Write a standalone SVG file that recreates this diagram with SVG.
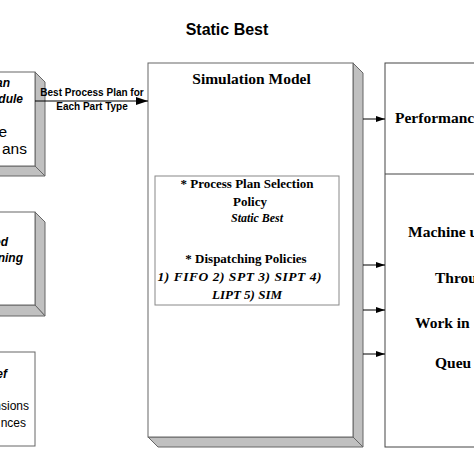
<svg xmlns="http://www.w3.org/2000/svg" width="474" height="474" viewBox="0 0 474 474">
<defs>
<style>
.front{fill:#fff;stroke:#666;stroke-width:1}
.shade{fill:#c0c0c0;stroke:#666;stroke-width:1}
.inner{fill:none;stroke:#888;stroke-width:1}
.rbox{fill:#fff;stroke:#444;stroke-width:1}
.conn{stroke:#000;stroke-width:1;fill:none}
.sans{font-family:"Liberation Sans",Arial,sans-serif;fill:#000}
.serif{font-family:"Liberation Serif","Times New Roman",serif;font-weight:bold;fill:#000}
.hd{font-style:italic;font-weight:bold;font-size:12px}
.rg{font-size:15.5px}
.lbl{font-size:10px;font-weight:bold;text-anchor:middle}
</style>
<marker id="ahL" markerUnits="userSpaceOnUse" markerWidth="12" markerHeight="8" refX="12" refY="4" orient="auto"><path d="M0,0 L12,4 L0,8 Z" fill="#000"/></marker>
<marker id="ahS" markerUnits="userSpaceOnUse" markerWidth="9" markerHeight="6" refX="9" refY="3" orient="auto"><path d="M0,0 L9,3 L0,6 Z" fill="#000"/></marker>
</defs>
<rect width="474" height="474" fill="#fff"/>
<text class="sans" x="227" y="35" font-size="16" font-weight="bold" text-anchor="middle">Static Best</text>

<g id="box1">
<polygon class="shade" points="35,72 45,82 45,176 35,166"/>
<polygon class="shade" points="-10,166 35,166 45,176 0,176"/>
<rect class="front" x="-20" y="72" width="55" height="94"/>
<text class="sans hd" x="10" y="87" text-anchor="end">an</text>
<text class="sans hd" x="23" y="103" text-anchor="end">dule</text>
<text class="sans rg" x="7" y="137" text-anchor="end">e</text>
<text class="sans rg" x="27" y="154" text-anchor="end">ans</text>
</g>

<g id="box2">
<polygon class="shade" points="35,212 45,222 45,316 35,305"/>
<polygon class="shade" points="-10,305 35,305 45,316 0,316"/>
<rect class="front" x="-20" y="212" width="55" height="93"/>
<text class="sans hd" x="8" y="246" text-anchor="end">ed</text>
<text class="sans hd" x="23" y="262" text-anchor="end">rning</text>
</g>

<g id="box3">
<rect class="front" x="-20" y="352" width="55" height="94"/>
<text class="sans hd" x="7" y="378" text-anchor="end">ef</text>
<text class="sans" font-size="12" x="29" y="410" text-anchor="end">nsions</text>
<text class="sans" font-size="12" x="26" y="427" text-anchor="end">nces</text>
</g>

<g id="simulation">
<polygon class="shade" points="353,63 363,73 363,447 353,437"/>
<polygon class="shade" points="148,437 353,437 363,447 158,447"/>
<rect class="front" x="148" y="63" width="205" height="374"/>
<text class="serif" font-size="15.5" x="251.5" y="84" text-anchor="middle">Simulation Model</text>
<rect class="inner" x="155" y="176" width="184" height="129"/>
<g font-size="13" text-anchor="middle">
<text class="serif" x="247" y="188">* Process Plan Selection</text>
<text class="serif" x="250" y="205.5">Policy</text>
<text class="serif" x="257" y="222" font-style="italic" textLength="52" lengthAdjust="spacingAndGlyphs">Static Best</text>
<text class="serif" x="246" y="263">* Dispatching Policies</text>
<text class="serif" x="239.5" y="281" font-style="italic" font-size="13.5" textLength="164" lengthAdjust="spacing">1) FIFO 2) SPT 3) SIPT 4)</text>
<text class="serif" x="247" y="299" font-style="italic">LIPT 5) SIM</text>
</g>
</g>

<g id="performance">
<rect class="rbox" x="385" y="63" width="100" height="384"/>
<line class="rbox" x1="385" y1="174" x2="474" y2="174"/>
<g font-size="15.5">
<text class="serif" x="395" y="123">Performanc</text>
<text class="serif" x="408" y="237">Machine u</text>
<text class="serif" x="435" y="283">Throu</text>
<text class="serif" x="415" y="328">Work in</text>
<text class="serif" x="435" y="368">Queu</text>
</g>
</g>

<g id="connectors">
<line class="conn" x1="35" y1="101" x2="148" y2="101" marker-end="url(#ahL)"/>
<text class="sans lbl" x="92" y="96">Best Process Plan for</text>
<text class="sans lbl" x="92" y="110">Each Part Type</text>
<line class="conn" x1="363" y1="119" x2="385" y2="119" marker-end="url(#ahS)"/>
<line class="conn" x1="363" y1="265" x2="385" y2="265" marker-end="url(#ahS)"/>
<line class="conn" x1="363" y1="310" x2="385" y2="310" marker-end="url(#ahS)"/>
<line class="conn" x1="363" y1="354" x2="385" y2="354" marker-end="url(#ahS)"/>
</g>
</svg>
